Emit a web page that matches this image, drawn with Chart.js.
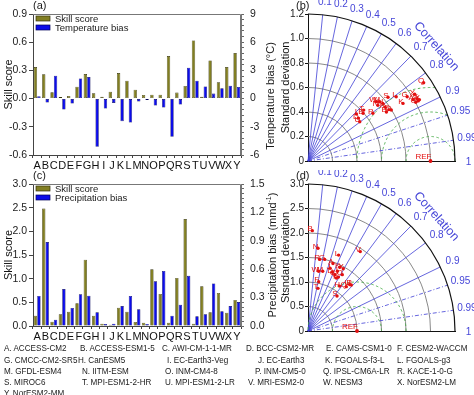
<!DOCTYPE html>
<html><head><meta charset="utf-8">
<script src="https://cdn.jsdelivr.net/npm/chart.js@4.4.1/dist/chart.umd.min.js"></script>
<style>
html,body{margin:0;padding:0;background:#fff;}
body{width:474px;height:395px;position:relative;overflow:hidden;font-family:"Liberation Sans",Arial,sans-serif;color:#1a1a1a;}
.c{position:absolute;}
.t{position:absolute;font-size:11px;white-space:nowrap;line-height:11px;}
.rt{position:absolute;font-size:11px;white-space:nowrap;line-height:11px;transform:translate(-50%,-50%) rotate(-90deg);}
.lg{position:absolute;font-size:9.5px;white-space:nowrap;line-height:10px;transform-origin:0 50%;transform:translateY(-50%) scaleX(0.853);}
</style></head><body>
<canvas id="ca" class="c" width="282" height="172" style="left:0;top:0"></canvas>
<canvas id="cc" class="c" width="282" height="173" style="left:0;top:170px"></canvas>
<canvas id="cb" class="c" width="204" height="170" style="left:270px;top:0"></canvas>
<canvas id="cd" class="c" width="204" height="172" style="left:270px;top:170px"></canvas>
<div class="t" style="left:33px;top:0">(a)</div>
<div class="t" style="left:33px;top:170px">(c)</div>
<div class="t" style="left:296px;top:0">(b)</div>
<div class="t" style="left:296px;top:170px">(d)</div>
<div class="rt" style="left:270px;top:96px">Temperature bias (°C)</div>
<div class="rt" style="left:272px;top:255px">Precipitation bias (mmd<sup style="font-size:7px;line-height:0">-1</sup>)</div>
<div id="names"></div>
<script>
// ---------- data ----------
const models = ['A','B','C','D','E','F','G','H','I','J','K','L','M','N','O','P','Q','R','S','T','U','V','W','X','Y'];
const modelNames = ['ACCESS-CM2','ACCESS-ESM1-5','AWI-CM-1-1-MR','BCC-CSM2-MR','CAMS-CSM1-0','CESM2-WACCM',
  'CMCC-CM2-SR5','CanESM5','EC-Earth3-Veg','EC-Earth3','FGOALS-f3-L','FGOALS-g3',
  'GFDL-ESM4','IITM-ESM','INM-CM4-8','INM-CM5-0','IPSL-CM6A-LR','KACE-1-0-G',
  'MIROC6','MPI-ESM1-2-HR','MPI-ESM1-2-LR','MRI-ESM2-0','NESM3','NorESM2-LM','NorESM2-MM'];

const skillTemp = [0.335,0.258,0.067,0.018,0.028,0.127,0.261,0.056,0.021,0.074,0.272,0.19,0.095,0.039,0.042,0.042,0.452,0.064,0.134,0.618,0.021,0.406,0.173,0.335,0.484];
const tempBias  = [0.25,-0.42,2.44,-1.16,-0.53,2.15,2.29,-5.12,-1.06,-0.46,-2.4,-2.54,-0.32,-0.14,-0.74,-0.95,-4.06,-0.64,3.28,1.9,1.3,0.53,1.09,1.38,1.24];

const skillPrecip = [0.218,2.48,0.092,0.246,0.303,0.479,1.40,0.218,0.05,0.028,0.387,0.30,0.085,0.07,1.197,0.676,0.07,1.014,2.26,0.05,0.838,0.289,0.697,0.28,0.55];
const precipBias  = [0.317,0.887,0.067,0.39,0.19,0.335,0.32,0.144,0.021,0.025,0.21,0.317,0.176,0.021,0.472,0.581,0.109,0.225,0.53,0.102,0.123,0.45,0.155,0.21,0.253];

// Taylor diagram (b): temperature
const tempStd  = [0.995,0.755,1.002,0.539,0.595,0.782,0.965,0.770,0.551,1.025,0.907,0.891,0.759,0.729,0.797,0.658,1.140,0.768,0.835,0.616,0.530,1.026,0.739,1.027,1.038];
const tempCorr = [0.864,0.848,0.878,0.761,0.756,0.844,0.839,0.792,0.717,0.878,0.855,0.808,0.771,0.782,0.853,0.805,0.828,0.820,0.782,0.738,0.797,0.868,0.755,0.848,0.876];
const tempRefStd = 1.0;

// Taylor diagram (d): precipitation
const precipStd  = [1.47,2.05,1.275,1.30,1.263,1.03,1.50,1.12,1.36,1.357,1.453,1.67,1.256,1.70,1.346,1.29,1.196,1.48,0.928,0.894,1.275,1.94,1.24,1.46,1.226];
const precipCorr = [0.347,0.043,0.431,0.385,0.491,0.212,0.227,0.575,0.441,0.332,0.447,0.374,0.239,0.12,0.52,0.685,0.654,0.16,0.638,0.228,0.667,0.55,0.175,0.493,0.473];
const precipRefStd = 1.0;

const corrTicks = [0.1,0.2,0.3,0.4,0.5,0.6,0.7,0.8,0.9,0.95,0.99,1];

// ---------- style ----------
Chart.defaults.font.family = '"Liberation Sans", Arial, sans-serif';
Chart.defaults.color = '#1a1a1a';
const OLIVE = '#817e22', OLIVE_B = '#34330c', BLUE = '#0c0ce8', BLUE_B = '#00005a';
const RED = '#e31010', RAY = '#3f3fd6', LBL = '#4646d8';

const insideLegend = {
  id: 'insideLegend',
  afterDraw(chart) {
    const {ctx, chartArea: a} = chart;
    ctx.save();
    ctx.strokeStyle = '#777'; ctx.lineWidth = 1;
    ctx.beginPath(); ctx.moveTo(a.left, a.top + 0.5); ctx.lineTo(a.right - 0.5, a.top + 0.5); ctx.lineTo(a.right - 0.5, a.bottom); ctx.stroke();
    chart.data.datasets.forEach((ds, i) => {
      const y = a.top + 4.5 + i * 9;
      ctx.fillStyle = ds.backgroundColor; ctx.strokeStyle = ds.borderColor; ctx.lineWidth = 0.7;
      ctx.fillRect(a.left + 3, y - 2.5, 14, 5); ctx.strokeRect(a.left + 3, y - 2.5, 14, 5);
      ctx.fillStyle = '#1a1a1a'; ctx.font = '9.5px "Liberation Sans", Arial, sans-serif';
      ctx.textBaseline = 'middle'; ctx.textAlign = 'left';
      ctx.fillText(ds.label, a.left + 22, y + 0.5);
    });
    ctx.restore();
  }
};

function barChart(id, skill, bias, biasLabel, yMin, yMax, yStep, y1Min, y1Max, y1Step, y1Major, y1Fmt, H) {
  return new Chart(document.getElementById(id), {
    type: 'bar',
    data: {
      labels: models,
      datasets: [
        {label: 'Skill score', data: skill, yAxisID: 'y', backgroundColor: OLIVE, borderColor: OLIVE_B, borderWidth: 0.6, borderSkipped: false},
        {label: biasLabel, data: bias, yAxisID: 'y1', backgroundColor: BLUE, borderColor: BLUE_B, borderWidth: 0.6, borderSkipped: false}
      ]
    },
    options: {
      responsive: false, animation: false, devicePixelRatio: 1,
      layout: {padding: {top: 14, left: 0, right: 0, bottom: 0}},
      datasets: {bar: {categoryPercentage: 0.84, barPercentage: 0.96}},
      plugins: {legend: {display: false}, tooltip: {enabled: false}},
      scales: {
        x: {
          grid: {display: true, drawOnChartArea: false, tickLength: 3, color: '#444', offset: true},
          border: {color: '#444'},
          ticks: {autoSkip: false, maxRotation: 0, font: {size: 11}, padding: 1, color: '#111'},
          afterFit(s) { s.height = H - (H === 172 ? 155 : 156); }
        },
        y: {
          position: 'left', min: yMin, max: yMax,
          ticks: {stepSize: yStep, callback: v => v.toFixed(1), font: {size: 10.5}, padding: 2, color: '#222'},
          grid: {drawOnChartArea: false, tickLength: 4, color: '#444'},
          border: {color: '#444'},
          title: {display: true, text: 'Skill score', font: {size: 11}, padding: {top: 2, bottom: 0}, color: '#111'},
          afterFit(s) { s.width = 33; }
        },
        y1: {
          position: 'right', min: y1Min, max: y1Max,
          ticks: {stepSize: y1Step, autoSkip: false, crossAlign: 'near', padding: 6, font: {size: 10.5}, color: '#222',
            callback: v => (Math.abs(v / y1Major - Math.round(v / y1Major)) < 1e-6 ? y1Fmt(v) : '')},
          grid: {drawOnChartArea: false, tickLength: 3, color: '#666'},
          border: {color: '#777'},
          afterFit(s) { s.width = 282 - 241; }
        }
      }
    },
    plugins: [insideLegend]
  });
}

barChart('ca', skillTemp, tempBias, 'Temperature bias', -0.6, 0.9, 0.3, -6, 9, 0.6, 3, v => String(Math.round(v)), 172);
barChart('cc', skillPrecip, precipBias, 'Precipitation bias', 0, 3.0, 0.5, 0, 1.5, 0.05, 0.3, v => v.toFixed(1), 173);

// ---------- Taylor diagrams ----------
const taylor = {
  id: 'taylor',
  beforeDatasetsDraw(chart, args, o) {
    const {ctx} = chart; const xs = chart.scales.x, ys = chart.scales.y;
    const ox = xs.getPixelForValue(0), oy = ys.getPixelForValue(0);
    const rx = xs.getPixelForValue(1) - ox, ry = oy - ys.getPixelForValue(1);
    const R = o.max;
    ctx.save();
    ctx.strokeStyle = '#7c7c7c'; ctx.lineWidth = 0.9;
    o.stdArcs.forEach(r => { ctx.beginPath(); ctx.ellipse(ox, oy, r * rx, r * ry, 0, -Math.PI / 2, 0); ctx.stroke(); });
    ctx.strokeStyle = RAY; ctx.lineWidth = 0.8;
    o.rays.forEach(c => {
      const s = Math.sqrt(1 - c * c);
      ctx.setLineDash(c > 0.92 ? [4, 2, 1, 2] : []);
      ctx.beginPath(); ctx.moveTo(ox, oy); ctx.lineTo(ox + R * c * rx, oy - R * s * ry); ctx.stroke();
    });
    ctx.setLineDash([]);
    ctx.strokeStyle = '#3fa83f'; ctx.lineWidth = 0.9; ctx.setLineDash([2.5, 2.5]);
    o.rms.forEach(d => {
      ctx.beginPath(); let pen = false;
      for (let i = 0; i <= 240; i++) {
        const t = Math.PI * i / 240;
        const x = o.ref + d * Math.cos(t), y = d * Math.sin(t);
        if (x * x + y * y <= R * R && x >= 0) {
          const px = ox + x * rx, py = oy - y * ry;
          if (pen) ctx.lineTo(px, py); else { ctx.moveTo(px, py); pen = true; }
        } else pen = false;
      }
      ctx.stroke();
    });
    ctx.setLineDash([]);
    ctx.strokeStyle = '#111'; ctx.lineWidth = 1.2;
    ctx.beginPath(); ctx.ellipse(ox, oy, R * rx, R * ry, 0, -Math.PI / 2, 0); ctx.stroke();
    ctx.fillStyle = LBL; ctx.font = '10px "Liberation Sans", Arial, sans-serif';
    ctx.textAlign = 'center'; ctx.textBaseline = 'middle';
    o.corrLabels.forEach(c => {
      const s = Math.sqrt(1 - c * c), k = 1.085;
      ctx.fillText(String(c), ox + k * R * c * rx + 1, oy - k * R * s * ry + (c === 1 ? 1 : 0));
    });
    const th = 41.7 * Math.PI / 180, kk = 1.17;
    ctx.save();
    ctx.translate(ox + kk * R * Math.cos(th) * rx, oy - kk * R * Math.sin(th) * ry);
    ctx.rotate(Math.PI / 2 - th);
    ctx.font = '12.5px "Liberation Sans", Arial, sans-serif';
    ctx.fillText('Correlation', 0, 0);
    ctx.restore();
    ctx.restore();
  },
  afterDatasetsDraw(chart, args, o) {
    const {ctx} = chart;
    const meta = chart.getDatasetMeta(0);
    ctx.save();
    ctx.fillStyle = RED; ctx.font = '8px "Liberation Sans", Arial, sans-serif';
    ctx.textAlign = 'right'; ctx.textBaseline = 'alphabetic';
    meta.data.forEach((pt, i) => ctx.fillText(o.names[i], pt.x + 0.5, pt.y + 0.5));
    const r = chart.getDatasetMeta(1).data[0];
    ctx.fillText('REF', r.x + 1, r.y - 2);
    ctx.restore();
  }
};

function taylorChart(id, std, corr, refStd, R, step, stdArcs, rms, title, H) {
  const pts = std.map((s, i) => ({x: s * corr[i], y: s * Math.sqrt(1 - corr[i] * corr[i])}));
  return new Chart(document.getElementById(id), {
    type: 'scatter',
    data: {datasets: [
      {label: 'Models', data: pts, pointRadius: 1.7, backgroundColor: RED, borderWidth: 0, clip: false},
      {label: 'REF', data: [{x: refStd, y: 0}], pointRadius: 1.9, backgroundColor: RED, borderWidth: 0, clip: false}
    ]},
    options: {
      responsive: false, animation: false, devicePixelRatio: 1,
      layout: {padding: {top: 14, right: 19, left: 0, bottom: 0}},
      plugins: {legend: {display: false}, tooltip: {enabled: false},
        taylor: {max: R, stdArcs: stdArcs, rays: corrTicks.slice(0, 11), rms: rms, ref: refStd, corrLabels: corrTicks, names: models}},
      scales: {
        x: {type: 'linear', min: 0, max: R, ticks: {display: false}, grid: {display: false},
            border: {display: true, color: '#111', width: 1}, afterFit(s) { s.height = H - 161; }},
        y: {type: 'linear', min: 0, max: R,
            ticks: {stepSize: step, font: {size: 10}, padding: 1, color: '#222'},
            grid: {drawOnChartArea: false, tickLength: 3, color: '#111'},
            border: {color: '#111'},
            title: {display: true, text: title, font: {size: 11}, padding: {top: 9, bottom: 0}, color: '#111'},
            afterFit(s) { s.width = 38; }}
      }
    },
    plugins: [taylor]
  });
}

taylorChart('cb', tempStd, tempCorr, tempRefStd, 1.2, 0.2, [0.2, 0.4, 0.6, 0.8, 1.0], [0.2, 0.4, 0.6], 'Standard deviation', 170);
taylorChart('cd', precipStd, precipCorr, precipRefStd, 3, 0.5, [0.5, 1, 1.5, 2, 2.5], [0.5, 1.0], 'Stsndard deviation', 172);

// ---------- model name key ----------
const keyCols = [[4,80,162,246,326,397],[4,78,167,258,325,397],[4,82,165,255,323,397],[4,82,165,248,323,397],[4]];
const keyRowY = [348, 359.5, 370.5, 381.5, 392.5];
const box = document.getElementById('names');
let k = 0;
keyCols.forEach((cols, r) => cols.forEach(x => {
  const d = document.createElement('div');
  d.className = 'lg'; d.style.left = x + 'px'; d.style.top = keyRowY[r] + 'px';
  d.textContent = models[k] + '. ' + modelNames[k]; box.appendChild(d); k++;
}));
</script>
</body></html>
